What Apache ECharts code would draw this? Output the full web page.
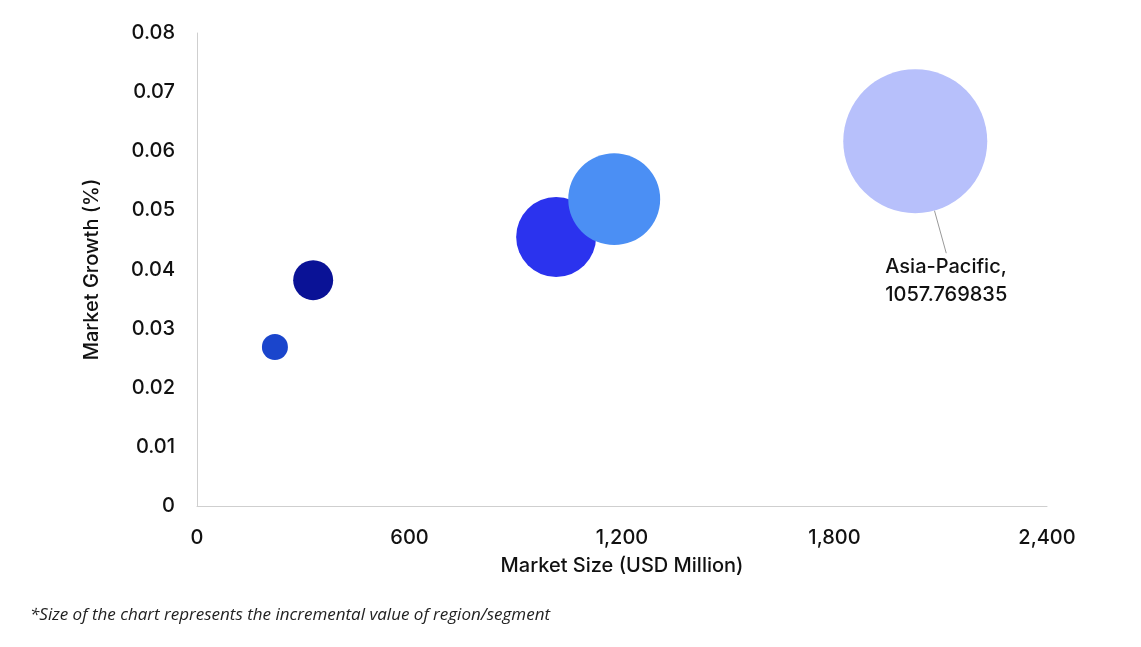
<!DOCTYPE html>
<html><head><meta charset="utf-8">
<script src="https://cdn.jsdelivr.net/npm/echarts@6/dist/echarts.min.js"></script>
<style>html,body{margin:0;padding:0;background:#fff}#c{width:1141px;height:647px}</style>
</head><body><div id="c"></div>
<script>
const regions = ['Segment A', 'Segment B', 'Segment C', 'Segment D', 'Asia-Pacific'];
const marketSize = [220, 328, 1014, 1178, 2028];
const marketGrowth = [0.0269, 0.0382, 0.0455, 0.0519, 0.0617];
const incremental = [34.5, 81.6, 326, 431, 1057.769835];
const colors = ['#1a45cc', '#0a1296', '#2b33ee', '#4b8ff4', '#b7c0fb'];
const xTicks = [0, 600, 1200, 1800, 2400];

const chart = echarts.init(document.getElementById('c'));
const font = 'Inter, "Open Sans", sans-serif';
const txt = { fontSize: 20, color: '#111', fontFamily: font, fontWeight: 500 };
chart.setOption({
  animation: false,
  grid: { left: 197, right: 94, top: 33, bottom: 141 },
  xAxis: {
    min: 0, max: 2400, interval: 600,
    name: 'Market Size (USD Million)', nameLocation: 'middle', nameGap: 50,
    nameTextStyle: txt,
    axisLine: { lineStyle: { color: '#cfcfcf' } }, axisTick: { show: false },
    axisLabel: Object.assign({ margin: 22,
      formatter: v => xTicks.includes(v) ? v.toLocaleString('en-US') : '' }, txt),
    splitLine: { show: false }
  },
  yAxis: {
    min: 0, max: 0.08, interval: 0.01,
    name: 'Market Growth (%)', nameLocation: 'middle', nameGap: 95,
    nameTextStyle: txt,
    axisLine: { show: true, lineStyle: { color: '#cfcfcf' } }, axisTick: { show: false },
    axisLabel: Object.assign({ margin: 22,
      formatter: v => v === 0 ? '0' : v.toFixed(2) }, txt),
    splitLine: { show: false }
  },
  series: [{
    type: 'scatter',
    data: marketSize.map((x, i) => ({
      value: [x, marketGrowth[i], incremental[i]], name: regions[i],
      itemStyle: { color: colors[i], opacity: 1 },
      label: { show: i === 4 }
    })),
    symbolSize: d => 144 * Math.sqrt(d[2] / 1057.769835),
    label: Object.assign({
      position: 'inside', align: 'left', lineHeight: 28,
      formatter: p => p.name + ',\n' + p.value[2]
    }, txt),
    labelLayout: p => p.dataIndex === 4 ? { dx: -30, dy: 140 } : {},
    labelLine: { show: true, lineStyle: { color: '#999', width: 1 } },
    emphasis: { disabled: true }
  }],
  graphic: [{
    type: 'text', left: 30, top: 607,
    style: { text: '*Size of the chart represents the incremental value of region/segment',
      fontSize: 17, fontStyle: 'italic', fill: '#222', fontFamily: '"Open Sans", sans-serif' }
  }]
});
</script></body></html>
